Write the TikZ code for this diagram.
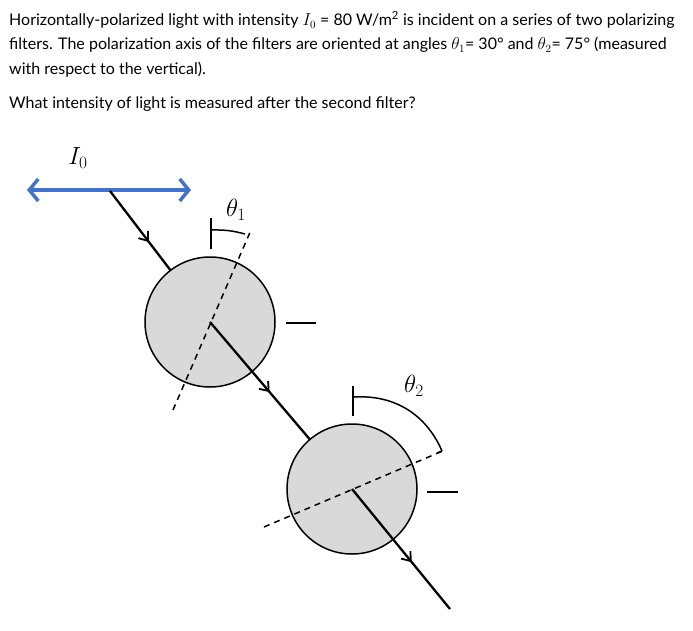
\documentclass[tikz,border=0pt]{standalone}
\usepackage{fontspec}
\setmainfont{Lato}
\usetikzlibrary{arrows.meta,decorations.markings}
\begin{document}
\begin{tikzpicture}[x=1pt,y=-1pt,
  txt/.style={anchor=west,inner sep=0pt,font=\fontsize{16}{19}\selectfont},
  ray/.style={line width=2.3pt,postaction={decorate},decoration={markings,mark=at position #1 with {\arrow{Straight Barb[length=8pt,width=12pt,line width=1.8pt]}}}},
  filt/.style={circle,draw,line width=1.5pt,fill=black!15,minimum size=130pt,inner sep=0pt},
  tick/.style={line width=1.5pt},
  dsh/.style={line width=1.5pt,dash pattern=on 6pt off 5pt},
  lab/.style={font=\fontsize{25}{25}\selectfont}]
\useasboundingbox (0,0) rectangle (693,631);
\node[txt] (t1) at (9,20) {Horizontally-polarized light with intensity $I_0$ = 80 W/m\textsuperscript{2} is incident on a series of two polarizing};
\node[txt] (t2) at (9,45) {filters. The polarization axis of the filters are oriented at angles $\theta_1$= 30° and $\theta_2$= 75° (measured};
\node[txt] (t3) at (9,70) {with respect to the vertical).};
\node[txt] (t4) at (9,104) {What intensity of light is measured after the second filter?};
% blue arrow
\coordinate (bl) at (27,190); \coordinate (br) at (191,190);
\draw[line width=3.5pt,color={rgb,255:red,68;green,114;blue,196},{Straight Barb[length=9pt,width=22pt,line width=3.5pt]}-{Straight Barb[length=9pt,width=22pt,line width=3.5pt]}] (bl) -- (br);
\node[lab] (i0) at (78,158) {$I_0$};
% filter 1
\coordinate (s0) at (110,191);
\coordinate (c1) at (210,322);
\draw[ray=0.39] (s0) -- (c1);
\node[filt] (f1) at (c1) {};
\coordinate (d1a) at (173,410); \coordinate (d1b) at (251,230);
\draw[dsh] (d1a) -- (d1b);
\coordinate (v1a) at (211,218); \coordinate (v1b) at (211,249);
\draw[tick] (v1a) -- (v1b);
\coordinate (a1a) at (212,230); \coordinate (a1b) at (245,234);
\draw[tick] (a1a) to[bend left=8] (a1b);
\coordinate (h1a) at (286,323); \coordinate (h1b) at (316,323);
\draw[tick] (h1a) -- (h1b);
\node[lab] (th1) at (236,210) {$\theta_1$};
% filter 2
\coordinate (c2) at (352,489);
\draw[ray=0.42] (c1) -- (c2);
\node[filt] (f2) at (c2) {};
\coordinate (d2a) at (264,527); \coordinate (d2b) at (445,450);
\draw[dsh] (d2a) -- (d2b);
\coordinate (v2a) at (353,386); \coordinate (v2b) at (353,416);
\draw[tick] (v2a) -- (v2b);
\coordinate (a2a) at (354,397); \coordinate (a2b) at (442,451);
\draw[tick] (a2a) to[bend left=35] (a2b);
\draw[tick] (a2b) -- ++(-5,2);
\coordinate (h2a) at (427,492); \coordinate (h2b) at (458,492);
\draw[tick] (h2a) -- (h2b);
\node[lab] (th2) at (414,386) {$\theta_2$};
\coordinate (e2) at (450,609);
\draw[ray=0.61] (c2) -- (e2);
\end{tikzpicture}
\end{document}
